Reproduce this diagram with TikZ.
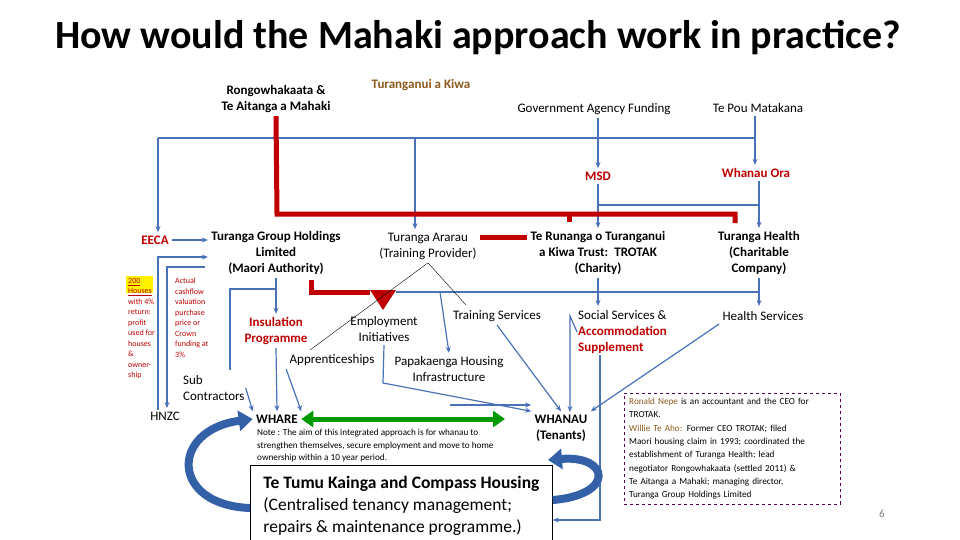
\documentclass[tikz,border=0pt]{standalone}
\usepackage{fontspec}
\setmainfont{Carlito}
\usetikzlibrary{arrows.meta}
\definecolor{flow}{HTML}{4A72B8}
\definecolor{iwi}{HTML}{C00000}
\definecolor{kiwa}{HTML}{8C5A1E}
\definecolor{loopblue}{HTML}{3460A8}
\tikzset{
  lbl/.style={align=center,font=\fontsize{13}{16}\selectfont},
  hot/.style={lbl,text=iwi,font=\fontsize{13}{16}\selectfont\bfseries},
  tiny/.style={align=left,text=iwi,font=\fontsize{8}{10.5}\selectfont,inner sep=0pt},
  feed/.style={flow,line width=1.2pt,-{Stealth[length=6pt,width=5pt]}},
  wire/.style={flow,line width=1.2pt},
  trunk/.style={iwi,line width=5pt},
}
\begin{document}
\begin{tikzpicture}[x=1pt,y=-1pt]
\useasboundingbox (0,0) rectangle (960,540);
\node (title) at (478,38) {\fontsize{40}{44}\selectfont\bfseries How would the Mahaki approach work in practice?};
\node [lbl,font=\fontsize{13}{16}\selectfont\bfseries] (rongo) at (276,99) {Rongowhakaata \&\\Te Aitanga a Mahaki};
\node [lbl,text=kiwa,font=\fontsize{13}{16}\selectfont\bfseries] (kiwa) at (421,85) {Turanganui a Kiwa};
\node [lbl] (gov) at (594,109) {Government Agency Funding};
\node [lbl] (pou) at (758,108) {Te Pou Matakana};
\node [hot] (msd) at (598,176) {MSD};
\node [hot] (ora) at (756,173) {Whanau Ora};
\node [hot] (eeca) at (155,240) {EECA};
\node [lbl,font=\fontsize{13}{16}\selectfont\bfseries] (tgh) at (276,253) {Turanga Group Holdings\\Limited\\(Maori Authority)};
\node [lbl] (ararau) at (428,246) {Turanga Ararau\\(Training Provider)};
\node [lbl,font=\fontsize{13}{16}\selectfont\bfseries] (trotak) at (598,253) {Te Runanga o Turanganui\\a Kiwa Trust:\, TROTAK\\(Charity)};
\node [lbl,font=\fontsize{13}{16}\selectfont\bfseries] (health) at (759,253) {Turanga Health\\(Charitable\\Company)};
\fill [yellow] (126,276) rectangle (153,293);
\node [tiny,anchor=north west] (houses) at (128,278) {\underline{200}\\\underline{Houses}\\with 4\%\\return:\\profit\\used for\\houses\\\&\\owner-\\ship};
\node [tiny,anchor=north west] (cash) at (175,278) {Actual\\cashflow\\valuation\\purchase\\price or\\Crown\\funding at\\3\%};
\node [hot] (insul) at (276,331) {Insulation\\Programme};
\node [lbl] (employ) at (384,329) {Employment\\Initiatives};
\node [lbl] (train) at (497,316) {Training Services};
\node [lbl,align=left,anchor=west,inner sep=1pt] (social) at (577,332) {Social Services \&\\\textcolor{iwi}{\bfseries Accommodation}\\\textcolor{iwi}{\bfseries Supplement}};
\node [lbl] (hserv) at (763,316) {Health Services};
\node [lbl] (appr) at (332,360) {Apprenticeships};
\node [lbl] (papa) at (449,369) {Papakaenga Housing\\Infrastructure};
\node [lbl,align=left,anchor=west,inner sep=1pt] (sub) at (182,388) {Sub\\Contractors};
\node [lbl] (hnzc) at (165,416) {HNZC};
\node [lbl,font=\fontsize{13}{16}\selectfont\bfseries] (whare) at (277,419) {WHARE};
\node [lbl,font=\fontsize{13}{16}\selectfont\bfseries] (whanau) at (561,428) {WHANAU\\(Tenants)};
\node [anchor=north west,align=left,inner sep=1pt,font=\fontsize{9.2}{12.5}\selectfont] (note) at (256,428) {Note : The aim of this integrated approach is for whanau to\\strengthen themselves, secure employment and move to home\\ownership within a 10 year period.};
\node [draw,line width=0.8pt,anchor=north west,align=left,minimum width=302pt,minimum height=80pt,inner sep=6pt,font=\fontsize{17.5}{22}\selectfont] (tumu) at (250,465) {\textbf{Te Tumu Kainga and Compass Housing}\\(Centralised tenancy management;\\repairs \& maintenance programme.)};
\node [draw=violet!70!black,dashed,anchor=north west,align=left,text width=206pt,minimum height=108pt,inner sep=5pt,font=\fontsize{9.2}{13.3}\selectfont] (bio) at (624,393) {\textcolor{kiwa}{Ronald Nepe} is an accountant and the CEO for\\TROTAK.\\\textcolor{kiwa}{Willie Te Aho:} Former CEO TROTAK; filed\\Maori housing claim in 1993; coordinated the\\establishment of Turanga Health; lead\\negotiator Rongowhakaata (settled 2011) \&\\Te Aitanga a Mahaki; managing director,\\Turanga Group Holdings Limited};
\node [font=\fontsize{11}{13}\selectfont,text=gray] (page) at (882,514) {6};
% funding lines
\coordinate (top) at (158,138);
\draw [wire] (top) -- (755,138);
\draw [feed] (top) -- (eeca.north -| top);
\draw [feed] (415,138) -- (ararau.north -| 415,0);
\draw [feed] (gov.south -| 598,0) -- (msd.north -| 598,0);
\draw [feed] (pou.south -| 755,0) -- (ora.north -| 755,0);
\draw [feed] (msd.south -| 598,0) -- (trotak.north -| 598,0);
\draw [feed] (ora.south -| 759,0) -- (health.north -| 759,0);
\draw [wire] (598,205) -- (759,205);
% iwi trunk
\draw [trunk] (rongo.south) -- (277,214) -- (735,214) -- (735,223);
\draw [trunk] (569,214) -- (569,222);
\draw [trunk] (ararau.east |- 0,237) -- (trotak.west |- 0,237);
\draw [trunk] (311,280) -- (311,292) -- (370,292);
\fill [iwi] (370,290) -- (396,290) -- (383,310) -- cycle;
% service lines
\draw [wire] (396,292) -- (759,292);
\draw [feed] (trotak.south) -- (598,306);
\draw [feed] (health.south) -- (759,306);
\draw [feed] (440,292) -- (papa.north);
\draw [feed] (eeca.east) -- (tgh.west |- eeca.east);
\draw [feed] (158,410) -- (158,257) -- (tgh.west |- 0,257);
\draw [feed] (205,267) -- (167,267) -- (167,408);
\draw [wire] (230,370) -- (230,289) -- (277,289);
\draw [feed] (tgh.south) -- (insul.north);
\draw [feed] (insul.south) -- (whare.north);
\draw [feed] (sub.east) -- (whare.north west);
\draw [feed] (appr.south west) -- (whare.north east);
\draw [feed] (employ.south) -- (383,383) -- (whanau.north west);
\draw [feed] (450,405) -- (whanau.north west |- 0,405);
\draw [feed] (train.south) -- (whanau.north);
\draw [feed] (social.west) -- (570,316) -- (570,412);
\draw [feed] (hserv.south west) -- (whanau.north east);
\draw [feed] (600,355) -- (600,520) -- (tumu.east |- 0,520);
\draw [black,thin] (ararau.south) -- (310,350);
\draw [black,thin] (ararau.south) -- (466,305);
% whare-whanau link
\draw [green!60!black,line width=5pt,{Triangle[length=12pt,width=16pt]}-{Triangle[length=12pt,width=16pt]}] (whare.east) -- (505,419);
% tenancy loops
\draw [loopblue,line width=8pt,-{Triangle[length=14pt,width=20pt]}] (250,508) .. controls (170,505) and (170,430) .. (whare.west);
\draw [loopblue,line width=8pt,-{Triangle[length=14pt,width=20pt]}] (tumu.east |- 0,500) .. controls (615,495) and (610,455) .. (548,460);
\end{tikzpicture}
\end{document}
